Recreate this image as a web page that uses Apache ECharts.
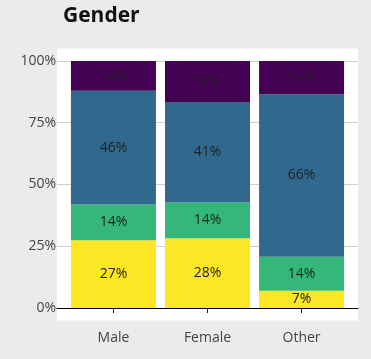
<!DOCTYPE html>
<html>
<head>
<meta charset="utf-8">
<script src="https://cdn.jsdelivr.net/npm/echarts@6/dist/echarts.min.js"></script>
<style>
html,body{margin:0;padding:0;background:#ebebeb;}
#c{width:371px;height:359px;}
</style>
</head>
<body>
<div id="c"></div>
<script>
const categories = ['Male', 'Female', 'Other'];
const categoryPositions = [1, 2, 3];
const yTicks = [0, 0.25, 0.5, 0.75, 1];
// stack order bottom -> top
const seriesNames = ['Level 1', 'Level 2', 'Level 3', 'Level 4'];
const level1 = [0.274, 0.282, 0.070];
const level2 = [0.145, 0.145, 0.138];
const level3 = [0.460, 0.407, 0.657];
const level4 = [0.121, 0.166, 0.135];
const colors = ['#fde725', '#35b779', '#31688e', '#440154'];

const values = [level1, level2, level3, level4];
const font = '"Open Sans", "Noto Sans", sans-serif';

// panel spans 57..358 px; categories sit 0.6 units in from each edge (0.4..3.6 range)
const panelLeft = 57, panelRight = 358, W = 371;
const unit = (panelRight - panelLeft) / 3.2;

const chart = echarts.init(document.getElementById('c'), null, {renderer: 'canvas'});
chart.setOption({
  backgroundColor: '#ebebeb',
  animation: false,
  title: {
    text: 'Gender',
    left: 58,
    top: 1,
    textStyle: {fontFamily: font, fontSize: 21, fontWeight: 'bold', color: '#111'}
  },
  grid: [
    {left: panelLeft, right: W - panelRight, top: 48.6, bottom: 38.6,
     show: true, backgroundColor: '#ffffff', borderWidth: 0},
    {left: panelLeft + 0.1 * unit, right: W - panelRight + 0.1 * unit, top: 48.6, bottom: 38.6,
     show: false}
  ],
  xAxis: [{
    gridIndex: 0,
    type: 'value',
    min: 0.4, max: 3.6,
    axisLine: {show: true, lineStyle: {color: '#000', width: 1.2}},
    axisTick: {show: true, length: 5, customValues: categoryPositions, lineStyle: {color: '#222'}},
    axisLabel: {
      customValues: categoryPositions,
      formatter: v => categories[Math.round(v) - 1] || '',
      fontFamily: font, fontSize: 14, color: '#444', margin: 11
    },
    splitLine: {show: false}
  }, {
    gridIndex: 1,
    type: 'category',
    data: categories,
    show: false
  }],
  yAxis: [{
    gridIndex: 0,
    type: 'value',
    min: -0.05, max: 1.05,
    axisLine: {show: false},
    axisTick: {show: false, customValues: yTicks},
    axisLabel: {
      customValues: yTicks,
      formatter: v => Math.round(v * 100) + '%',
      fontFamily: font, fontSize: 14, color: '#444', margin: 1
    },
    splitLine: {show: true, lineStyle: {color: '#cfcfcf', width: 1}}
  }, {
    gridIndex: 1,
    type: 'value',
    min: -0.05, max: 1.05,
    show: false,
    splitLine: {show: false}
  }],
  series: values.map((arr, i) => ({
    name: seriesNames[i],
    type: 'bar',
    xAxisIndex: 1,
    yAxisIndex: 1,
    stack: 'total',
    barWidth: 85,
    data: arr,
    itemStyle: {color: colors[i]},
    label: {
      show: true,
      position: 'inside',
      formatter: p => Math.round(p.value * 100) + '%',
      fontFamily: font, fontSize: 14, color: '#222'
    }
  }))
});
</script>
</body>
</html>
